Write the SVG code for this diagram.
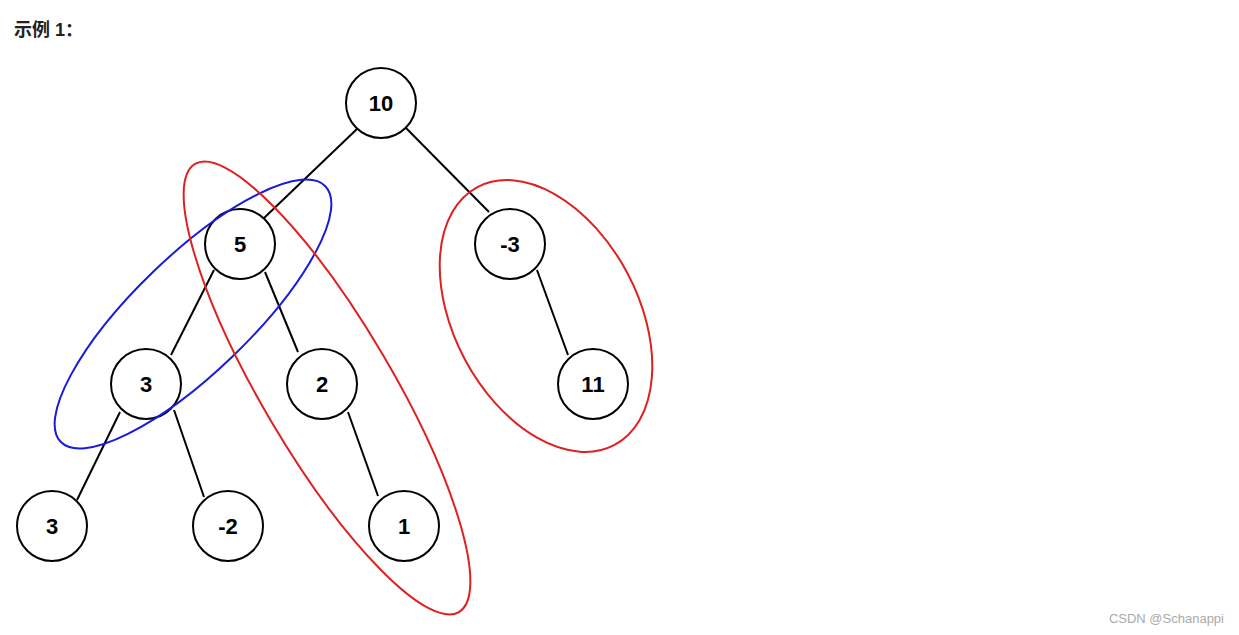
<svg xmlns="http://www.w3.org/2000/svg" width="1239" height="635" viewBox="0 0 1239 635">
<style>
.n circle{fill:#fff;stroke:#000;stroke-width:2}
.n text{font-family:"Liberation Sans",Arial,sans-serif;font-weight:bold;font-size:22px;text-anchor:middle;dominant-baseline:central}
#edges line{stroke:#000;stroke-width:2}
</style>
<rect width="1239" height="635" fill="#fff"/>
<text x="14" y="36" font-family="'Liberation Sans','Noto Sans CJK SC',sans-serif" font-weight="bold" font-size="18" fill="#222">示例 1：</text>
<g id="edges">
<line x1="357" y1="129" x2="264" y2="218"/>
<line x1="406" y1="128" x2="489" y2="212"/>
<line x1="214" y1="270" x2="171" y2="355"/>
<line x1="265" y1="272" x2="298" y2="352"/>
<line x1="537" y1="270" x2="568" y2="355"/>
<line x1="120" y1="412" x2="77" y2="500"/>
<line x1="174" y1="410" x2="204" y2="497"/>
<line x1="348" y1="412" x2="378" y2="496"/>
</g>
<g id="n10" class="n"><circle cx="381" cy="103" r="35"/><text x="381" y="103">10</text></g>
<g id="n5" class="n"><circle cx="240" cy="244" r="35"/><text x="240" y="244">5</text></g>
<g id="nm3" class="n"><circle cx="510" cy="244" r="35"/><text x="510" y="244">-3</text></g>
<g id="n3a" class="n"><circle cx="146" cy="384" r="35"/><text x="146" y="384">3</text></g>
<g id="n2" class="n"><circle cx="322" cy="384" r="35"/><text x="322" y="384">2</text></g>
<g id="n11" class="n"><circle cx="593" cy="384" r="35"/><text x="593" y="384">11</text></g>
<g id="n3b" class="n"><circle cx="52" cy="526" r="35"/><text x="52" y="526">3</text></g>
<g id="nm2" class="n"><circle cx="228" cy="526" r="35"/><text x="228" y="526">-2</text></g>
<g id="n1" class="n"><circle cx="404" cy="526" r="35"/><text x="404" y="526">1</text></g>
<g id="ovals" fill="none" stroke-width="2">
<ellipse cx="193" cy="314" rx="184" ry="58" transform="rotate(-44 193 314)" stroke="#1a1adc"/>
<ellipse cx="327" cy="388" rx="260" ry="65" transform="rotate(59.5 327 388)" stroke="#e02020"/>
<ellipse cx="546" cy="316" rx="146" ry="92" transform="rotate(62 546 316)" stroke="#e02020"/>
</g>
<text x="1224" y="623" text-anchor="end" font-family="'Liberation Sans',sans-serif" font-size="13" fill="#aaa">CSDN @Schanappi</text>
</svg>
